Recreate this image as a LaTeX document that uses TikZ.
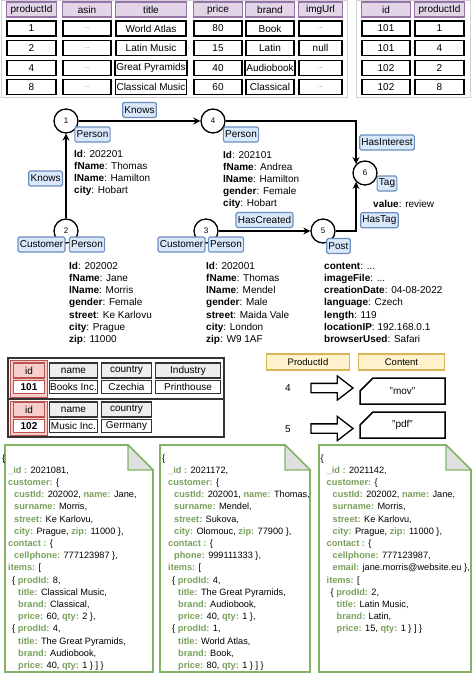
\documentclass[tikz,border=0pt]{standalone}
\usepackage{fontspec}
\setmainfont{Liberation Sans}
\usepackage{tikz}
\usetikzlibrary{arrows.meta,shapes.arrows}

\definecolor{hdrfill}{HTML}{E1D5E7}
\definecolor{hdrline}{HTML}{9673A6}
\definecolor{lblfill}{HTML}{DAE8FC}
\definecolor{lblline}{HTML}{6C8EBF}
\definecolor{idfill}{HTML}{F8CECC}
\definecolor{idline}{HTML}{B85450}
\definecolor{pkfill}{HTML}{FFF2CC}
\definecolor{pkline}{HTML}{D6B656}
\definecolor{docline}{HTML}{82B366}
\definecolor{keycol}{HTML}{78A05A}
\definecolor{cellgray}{HTML}{EEEEEE}

\newcommand{\ky}[1]{\textcolor{keycol}{\textbf{#1}}}
\newcommand{\indt}[1]{\hspace*{#1pt}}
\newcommand{\gdots}{\textcolor{gray}{\fontsize{7}{7}\selectfont ...}}

\begin{document}
\begin{tikzpicture}[x=1pt,y=-1pt,font=\fontsize{10}{12}\selectfont]
\useasboundingbox (0,0) rectangle (474,675);
\tikzstyle{phead}=[draw=hdrline,fill=hdrfill,line width=1.2pt,minimum height=15pt,inner sep=1pt]
\tikzstyle{pcell}=[draw=black,fill=white,line width=1.8pt,minimum height=15pt,inner sep=1pt]
\tikzstyle{vert}=[draw,circle,fill=white,line width=1.3pt,minimum size=24pt,inner sep=0pt,font=\fontsize{8}{8}\selectfont]
\tikzstyle{lbl}=[draw=lblline,fill=lblfill,rounded corners=1.5pt,line width=1.2pt,minimum height=15pt,inner xsep=1.8pt,inner ysep=1pt]
\tikzstyle{edge}=[line width=1.3pt,-{Stealth[length=7pt,width=7pt]}]
% base of a multi-line node is its last line
\tikzstyle{props}=[align=left,anchor=base west,inner sep=0pt,font=\fontsize{10}{12.2}\selectfont]
\tikzstyle{cgray}=[draw=black!80,fill=cellgray,line width=1.2pt,minimum height=15pt,inner sep=1pt]
\tikzstyle{cwhite}=[draw=black!80,fill=white,line width=1.2pt,minimum height=13pt,inner sep=1pt]
\tikzstyle{cid}=[draw=idline,fill=idfill,line width=1.2pt,minimum height=15pt,minimum width=31pt,inner sep=1pt]
\tikzstyle{cidv}=[draw=idline,fill=white,line width=1.2pt,minimum height=13pt,minimum width=31pt,inner sep=1pt,font=\fontsize{10}{12}\bfseries]
\tikzstyle{pkey}=[draw=pkline,fill=pkfill,line width=1.2pt,minimum height=16pt,inner sep=1pt,font=\fontsize{9.5}{11}\selectfont]
\tikzstyle{barrow}=[draw,single arrow,single arrow head extend=7.5pt,single arrow tip angle=75,minimum height=42pt,inner sep=0pt,line width=1.3pt]
\tikzstyle{card}=[draw,fill=white,line width=1.5pt]
\tikzstyle{docbox}=[draw=docline,fill=white,line width=1.8pt]
\tikzstyle{docfold}=[draw=docline,fill=black!12,line width=1.2pt]
\tikzstyle{doc}=[align=left,anchor=base west,inner sep=0pt,font=\fontsize{9.2}{12.2}\selectfont]

% product table
\draw[gray!35] (1,0.5) rectangle (347,97);
\foreach \cx/\w/\t [count=\c] in {31.5/49.5/productId, 87/48.5/asin, 151/70.5/title, 218/48.5/price, 270/48.5/brand, 320.5/43.5/imgUrl}
  \node[phead,minimum width=\w pt] (ph\c) at (\cx,9.5) {\t};
\foreach \y/\a/\b/\d/\e/\f [count=\r] in {28.5/1/World Atlas/80/Book/\gdots, 48/2/Latin Music/15/Latin/null, 68/4/Great Pyramids/40/Audiobook/\gdots, 87/8/Classical Music/60/Classical/\gdots} {
  \node[pcell,minimum width=49.5pt] (p\r-1) at (31.5,\y) {\a};
  \node[pcell,minimum width=48.5pt] (p\r-2) at (87,\y) {\gdots};
  \node[pcell,minimum width=70.5pt] (p\r-3) at (151,\y) {\b};
  \node[pcell,minimum width=48.5pt] (p\r-4) at (218,\y) {\d};
  \node[pcell,minimum width=48.5pt] (p\r-5) at (270,\y) {\e};
  \node[pcell,minimum width=43.5pt] (p\r-6) at (320.5,\y) {\f};
}

% link table
\draw[gray!35] (356,0.5) rectangle (470,97);
\node[phead,minimum width=48.5pt] (lh1) at (386,9.5) {id};
\node[phead,minimum width=49.5pt] (lh2) at (439.5,9.5) {productId};
\foreach \y/\a/\b [count=\r] in {28.5/101/1, 48/101/4, 68/102/2, 87/102/8} {
  \node[pcell,minimum width=48.5pt] (l\r-1) at (386,\y) {\a};
  \node[pcell,minimum width=49.5pt] (l\r-2) at (439.5,\y) {\b};
}

% graph
\node[vert] (v1) at (66,121) {1};
\node[vert] (v4) at (213,121) {4};
\node[vert] (v6) at (365,173) {6};
\node[vert] (v2) at (66,231) {2};
\node[vert] (v3) at (206,231) {3};
\node[vert] (v5) at (323,231) {5};

\node[lbl] (t1) at (92.5,134.5) {Person};
\node[lbl] (t4) at (241,134.5) {Person};
\node[lbl] (t6) at (387,183.5) {Tag};
\node[lbl] (t5) at (338.5,246) {Post};
\node[lbl] (t2a) at (41.5,244.5) {Customer};
\node[lbl] (t2b) at (87,244.5) {Person};
\node[lbl] (t3a) at (181.5,244.5) {Customer};
\node[lbl] (t3b) at (226,244.5) {Person};

\draw[edge] (v2) -- node[lbl,pos=0.47,left=3pt] (e21) {Knows} (v1);
\draw[edge] (v1) -- node[lbl,midway,above=3pt] (e14) {Knows} (v4);
\draw[edge] (v4) -| node[lbl,pos=0.75,right=3pt] (e46) {HasInterest} (v6.north west);
\draw[edge] (v5) -| node[lbl,pos=0.61,right=4pt] (e56) {HasTag} (v6.south west);
\draw[edge] (v3) -- node[lbl,midway,above=3pt] (e35) {HasCreated} (v5);

\node[props] (pp1) at (74,193.6) {\textbf{Id}: 202201\\ \textbf{fName}: Thomas\\ \textbf{lName}: Hamilton\\ \textbf{city}: Hobart};
\node[props] (pp4) at (223,206.8) {\textbf{Id}: 202101\\ \textbf{fName}: Andrea\\ \textbf{lName}: Hamilton\\ \textbf{gender}: Female\\ \textbf{city}: Hobart};
\node[props] (pp6) at (373,207.5) {\textbf{value}: review};
\node[props] (pp2) at (69,342.5) {\textbf{Id}: 202002\\ \textbf{fName}: Jane\\ \textbf{lName}: Morris\\ \textbf{gender}: Female\\ \textbf{street}: Ke Karlovu\\ \textbf{city}: Prague\\ \textbf{zip}: 11000};
\node[props] (pp3) at (206,342.5) {\textbf{Id}: 202001\\ \textbf{fName}: Thomas\\ \textbf{lName}: Mendel\\ \textbf{gender}: Male\\ \textbf{street}: Maida Vale\\ \textbf{city}: London\\ \textbf{zip}: W9 1AF};
\node[props] (pp5) at (324,342.5) {\textbf{content}: ...\\ \textbf{imageFile}: ...\\ \textbf{creationDate}: 04-08-2022\\ \textbf{language}: Czech\\ \textbf{length}: 119\\ \textbf{locationIP}: 192.168.0.1\\ \textbf{browserUsed}: Safari};

% vendor records
\draw[draw=black!80,line width=1.5pt] (8,358) rectangle (224,399);
\draw[draw=black!80,line width=1.5pt] (8,399) rectangle (224,437);
\draw[draw=idline,fill=idfill,line width=0.8pt] (10,360) rectangle (47,397);
\draw[draw=idline,fill=idfill,line width=0.8pt] (10,401) rectangle (47,435);
\node[cid] (vh1) at (29,370.5) {id};
\node[cidv] (vv1) at (29,387) {101};
\node[cgray,minimum width=48pt] (vn1) at (73.5,370.5) {name};
\node[cwhite,minimum width=48pt] (vnv1) at (73.5,387) {Books Inc.};
\node[cgray,minimum width=50pt] (vc1) at (126.5,370.5) {country};
\node[cwhite,minimum width=50pt] (vcv1) at (126.5,387) {Czechia};
\node[cgray,minimum width=65pt] (vi1) at (188,370.5) {Industry};
\node[cwhite,minimum width=65pt] (viv1) at (188,387) {Printhouse};
\node[cid] (vh2) at (29,409.5) {id};
\node[cidv] (vv2) at (29,426) {102};
\node[cgray,minimum width=48pt] (vn2) at (73.5,409.5) {name};
\node[cwhite,minimum width=48pt] (vnv2) at (73.5,426) {Music Inc.};
\node[cgray,minimum width=50pt] (vc2) at (126.5,409.5) {country};
\node[cwhite,minimum width=50pt] (vcv2) at (126.5,426) {Germany};

% key-value store
\node[pkey,minimum width=83pt] (kp) at (308,362) {ProductId};
\node[pkey,minimum width=86pt] (kc) at (401.5,362) {Content};
\node (k4) at (288,388) {4};
\node (k5) at (288,429) {5};
\node[barrow] (a4) at (329,388) {\rule{0pt}{8pt}};
\node[barrow] (a5) at (329,428.5) {\rule{0pt}{8pt}};
\draw[card] (360,391) -- (373,378) -- (445,378) -- (445,404) -- (360,404) -- cycle;
\node (c4) at (402.5,391) {"mov"};
\draw[card] (360,425) -- (373,412) -- (445,412) -- (445,438) -- (360,438) -- cycle;
\node (c5) at (402.5,425) {"pdf"};

% order documents
\foreach \xa/\xb in {5/153, 160/310, 319/471} {
  \draw[docbox] (\xa,445) -- (\xb-25,445) -- (\xb,470) -- (\xb,672) -- (\xa,672) -- cycle;
  \draw[docfold] (\xb-25,445) -- (\xb-25,470) -- (\xb,470) -- cycle;
}
\node[doc] (d1) at (2,668.5) {\{\\
\indt{6}\ky{\_id :} 2021081,\\
\indt{6}\ky{customer:} \{\\
\indt{12}\ky{custId:} 202002, \ky{name:} Jane,\\
\indt{12}\ky{surname:} Morris,\\
\indt{12}\ky{street:} Ke Karlovu,\\
\indt{12}\ky{city:} Prague, \ky{zip:} 11000 \},\\
\indt{6}\ky{contact :} \{\\
\indt{12}\ky{cellphone:} 777123987 \},\\
\indt{6}\ky{items:} [\\
\indt{10}\{ \ky{prodId:} 8,\\
\indt{16}\ky{title:} Classical Music,\\
\indt{16}\ky{brand:} Classical,\\
\indt{16}\ky{price:} 60, \ky{qty:} 2 \},\\
\indt{10}\{ \ky{prodId:} 4,\\
\indt{16}\ky{title:} The Great Pyramids,\\
\indt{16}\ky{brand:} Audiobook,\\
\indt{16}\ky{price:} 40, \ky{qty:} 1 \} ] \}};
\node[doc] (d2) at (162,668.5) {\{\\
\indt{6}\ky{\_id :} 2021172,\\
\indt{6}\ky{customer:} \{\\
\indt{12}\ky{custId:} 202001, \ky{name:} Thomas,\\
\indt{12}\ky{surname:} Mendel,\\
\indt{12}\ky{street:} Sukova,\\
\indt{12}\ky{city:} Olomouc, \ky{zip:} 77900 \},\\
\indt{6}\ky{contact :} \{\\
\indt{12}\ky{phone:} 999111333 \},\\
\indt{6}\ky{items:} [\\
\indt{10}\{ \ky{prodId:} 4,\\
\indt{16}\ky{title:} The Great Pyramids,\\
\indt{16}\ky{brand:} Audiobook,\\
\indt{16}\ky{price:} 40, \ky{qty:} 1 \},\\
\indt{10}\{ \ky{prodId:} 1,\\
\indt{16}\ky{title:} World Atlas,\\
\indt{16}\ky{brand:} Book,\\
\indt{16}\ky{price:} 80, \ky{qty:} 1 \} ] \}};
\node[doc] (d3) at (320.5,631.9) {\{\\
\indt{6}\ky{\_id :} 2021142,\\
\indt{6}\ky{customer:} \{\\
\indt{12}\ky{custId:} 202002, \ky{name:} Jane,\\
\indt{12}\ky{surname:} Morris,\\
\indt{12}\ky{street:} Ke Karlovu,\\
\indt{12}\ky{city:} Prague, \ky{zip:} 11000 \},\\
\indt{6}\ky{contact :} \{\\
\indt{12}\ky{cellphone:} 777123987,\\
\indt{12}\ky{email:} jane.morris@website.eu \},\\
\indt{6}\ky{items:} [\\
\indt{10}\{ \ky{prodId:} 2,\\
\indt{16}\ky{title:} Latin Music,\\
\indt{16}\ky{brand:} Latin,\\
\indt{16}\ky{price:} 15, \ky{qty:} 1 \} ] \}};
\end{tikzpicture}
\end{document}
